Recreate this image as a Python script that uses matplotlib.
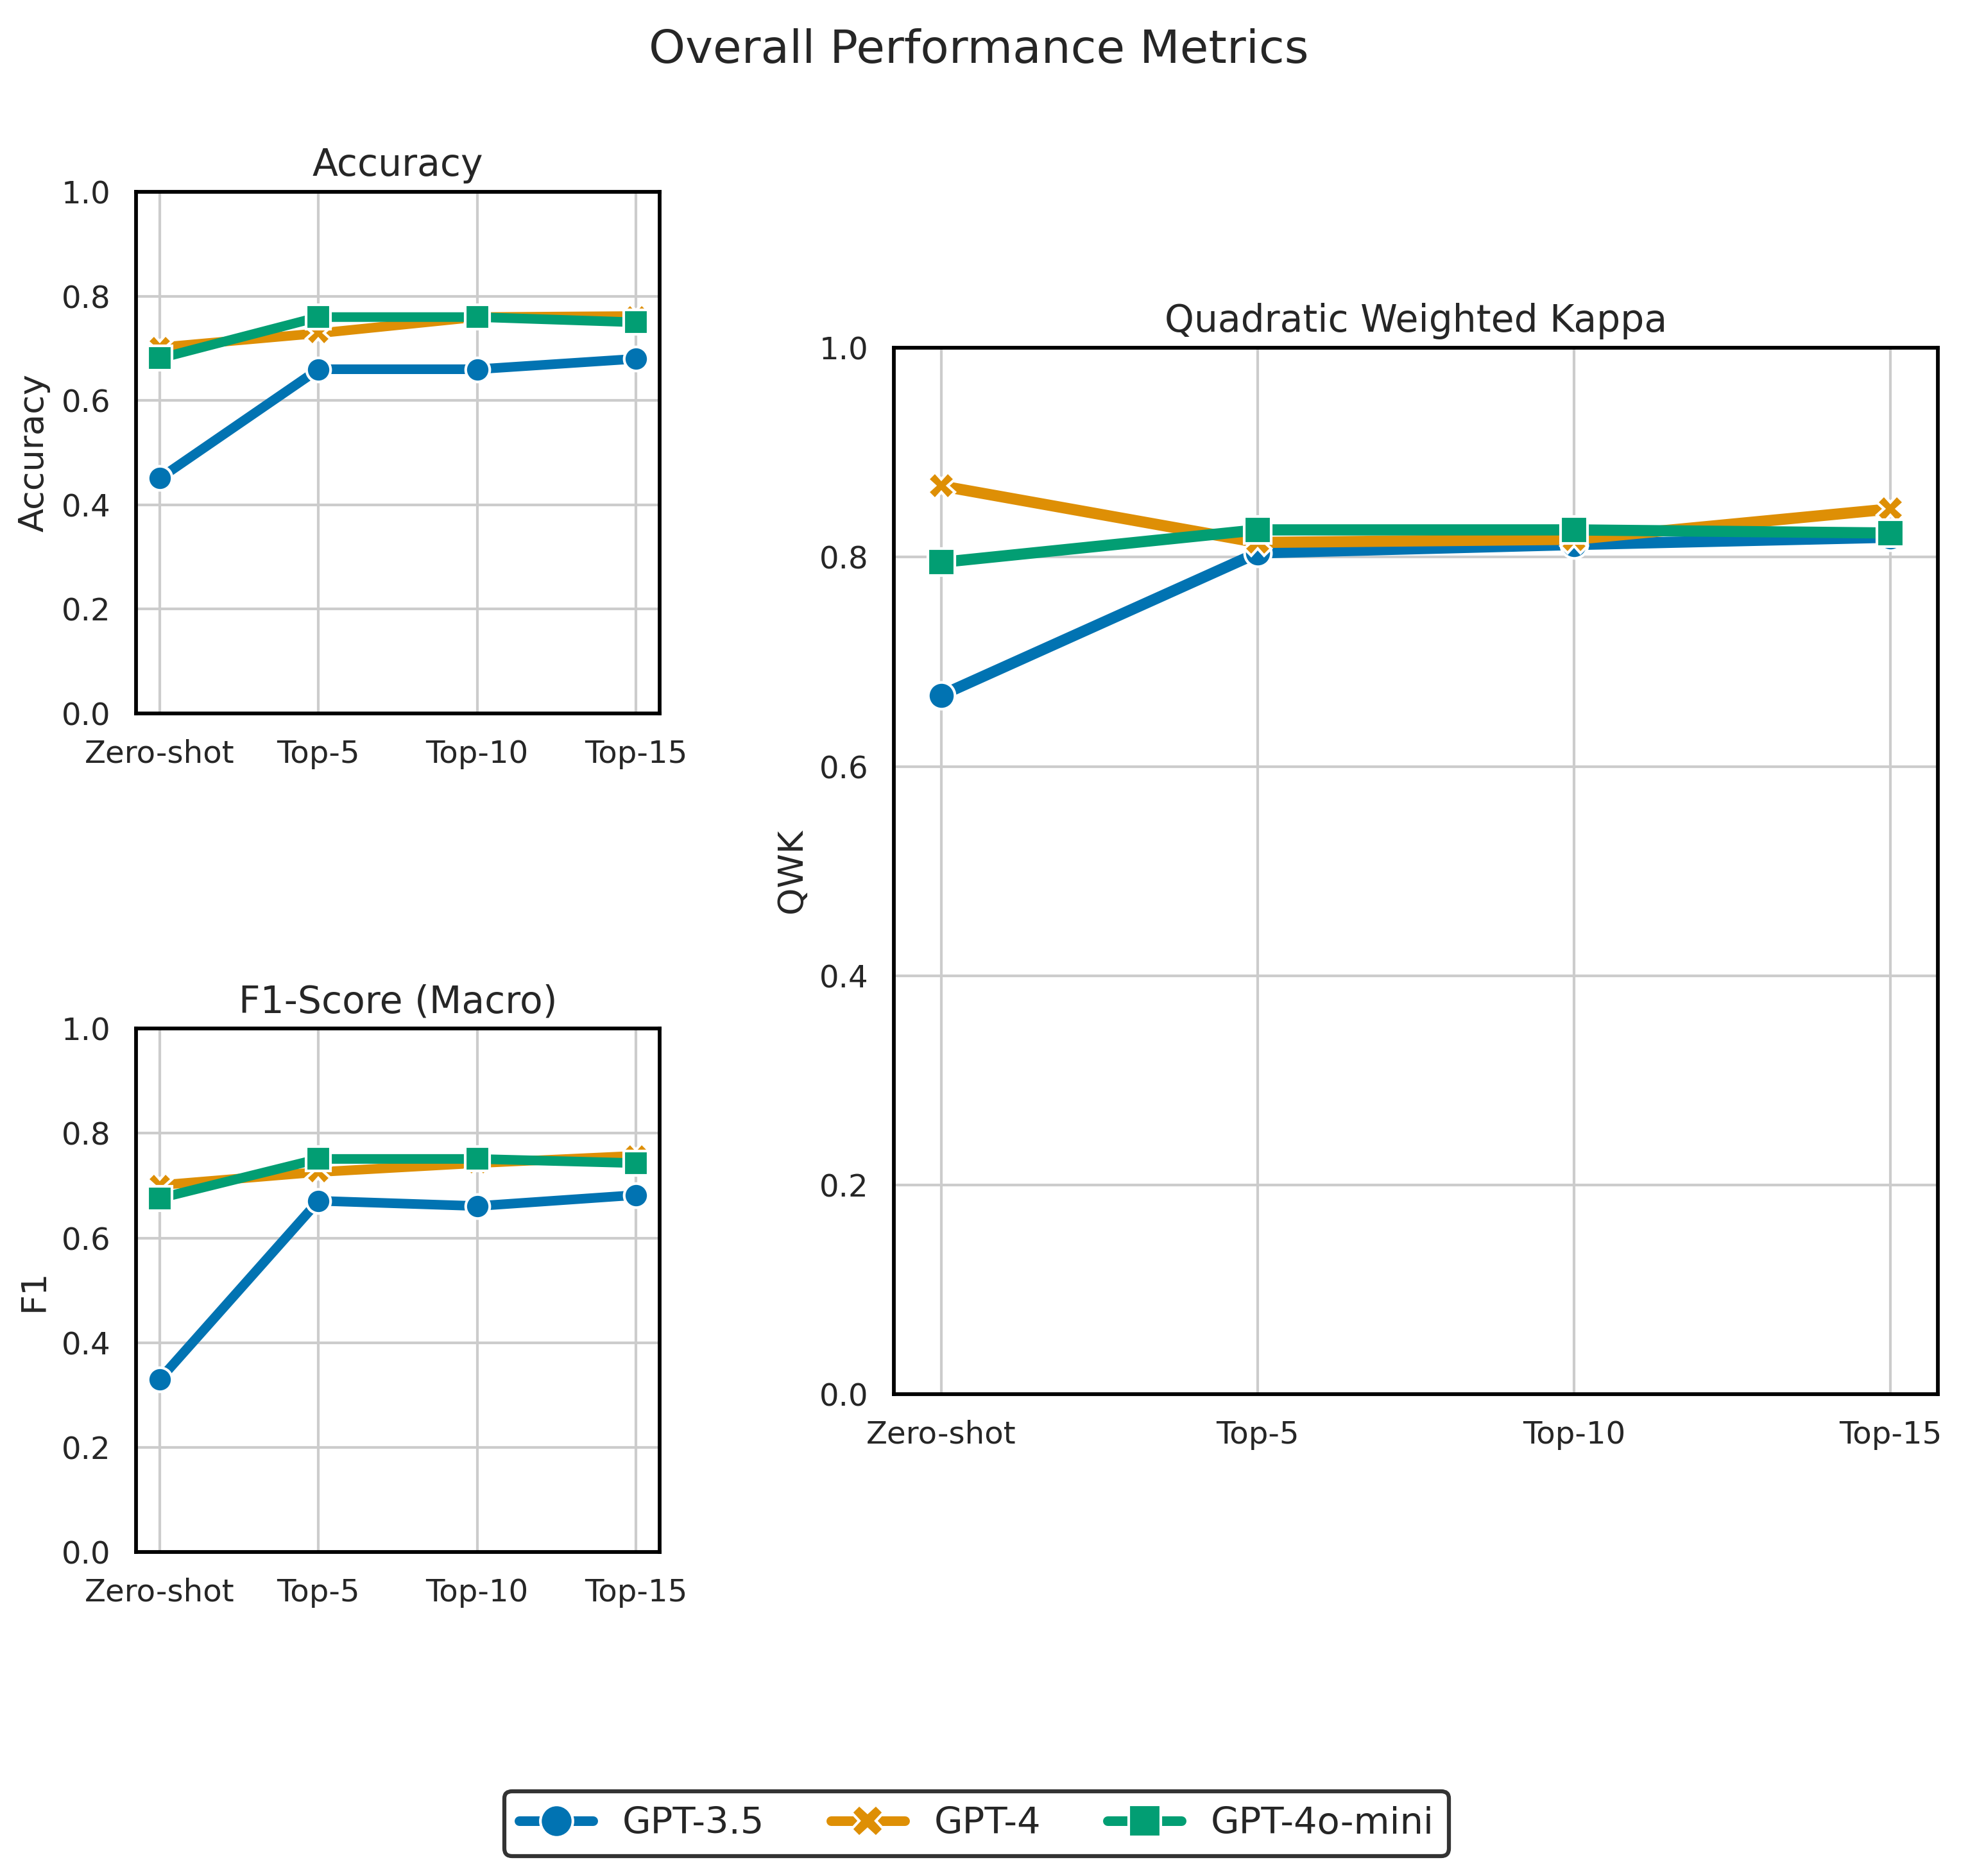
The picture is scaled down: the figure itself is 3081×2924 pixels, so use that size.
import matplotlib
matplotlib.use("Agg")
import matplotlib.pyplot as plt
import seaborn as sns

sns.set_theme(style="whitegrid")
plt.rcParams['font.family'] = ['DejaVu Sans']

settings = ["Zero-shot", "Top-5", "Top-10", "Top-15"]
models = ["GPT-3.5", "GPT-4", "GPT-4o-mini"]

acc_gpt35 = [0.451, 0.660, 0.660, 0.680]
acc_gpt4 = [0.702, 0.729, 0.760, 0.762]
acc_mini = [0.681, 0.760, 0.760, 0.750]

f1_gpt35 = [0.330, 0.671, 0.661, 0.682]
f1_gpt4 = [0.701, 0.726, 0.743, 0.757]
f1_mini = [0.676, 0.751, 0.751, 0.743]

qwk_gpt35 = [0.668, 0.804, 0.812, 0.819]
qwk_gpt4 = [0.868, 0.814, 0.817, 0.846]
qwk_mini = [0.795, 0.826, 0.826, 0.823]

colors = ["#0173B2", "#DE8F05", "#029E73"]
markers = ["o", "X", "s"]

fig = plt.figure(figsize=(3081/300, 2924/300), dpi=300)
ax_acc = fig.add_axes([0.0688, 0.6197, 0.2649, 0.2780])
ax_f1 = fig.add_axes([0.0688, 0.1727, 0.2649, 0.2790])
ax_qwk = fig.add_axes([0.4521, 0.2568, 0.5281, 0.5578])

def draw(ax, series, title, ylabel, lw, ms):
    x = list(range(len(settings)))
    handles = []
    for vals, c, m, name in zip(series, colors, markers, models):
        h, = ax.plot(x, vals, color=c, marker=m, lw=lw, ms=ms,
                     markeredgecolor="white", markeredgewidth=1.0, label=name)
        handles.append(h)
    ax.set_ylim(0, 1.0)
    ax.set_yticks([0, 0.2, 0.4, 0.6, 0.8, 1.0])
    ax.set_xticks(x)
    ax.set_xticklabels(settings)
    ax.set_title(title, fontsize=14)
    ax.set_ylabel(ylabel, fontsize=13)
    ax.tick_params(labelsize=11.6)
    for s in ax.spines.values():
        s.set_edgecolor("black")
        s.set_linewidth(1.4)
    return handles

handles = draw(ax_acc, [acc_gpt35, acc_gpt4, acc_mini], "Accuracy", "Accuracy", 3.6, 9)
draw(ax_f1, [f1_gpt35, f1_gpt4, f1_mini], "F1-Score (Macro)", "F1", 3.6, 9)
draw(ax_qwk, [qwk_gpt35, qwk_gpt4, qwk_mini], "Quadratic Weighted Kappa", "QWK", 4.2, 10)

fig.suptitle("Overall Performance Metrics", fontsize=17.4, x=0.495, y=0.985)
leg = fig.legend(handles, models, loc="center", bbox_to_anchor=(0.494, 0.028),
                 ncol=3, fontsize=13.8, frameon=True, handlelength=2.0,
                 columnspacing=1.8, markerscale=1.35)
leg.get_frame().set_edgecolor("black")
leg.get_frame().set_linewidth(1.5)

fig.savefig("out.png", dpi=300)
